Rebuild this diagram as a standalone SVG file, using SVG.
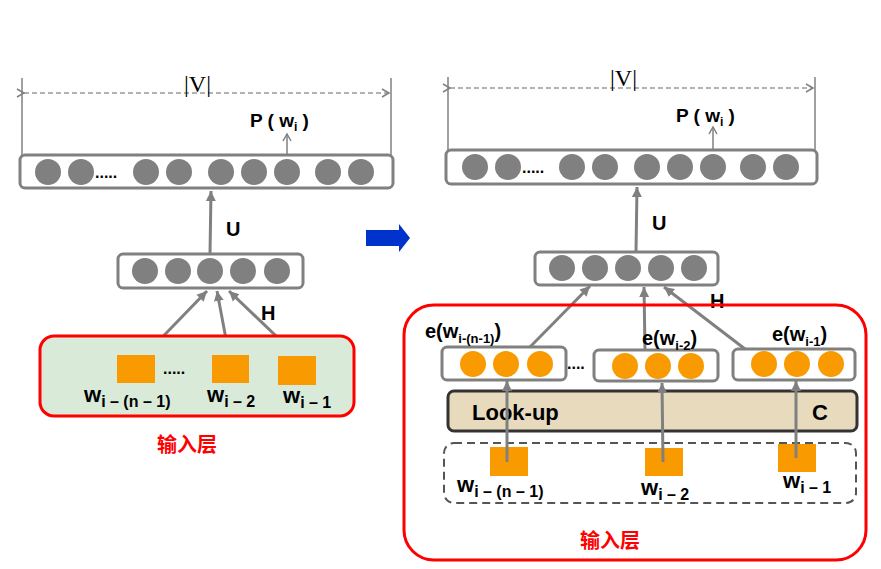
<svg xmlns="http://www.w3.org/2000/svg" width="881" height="569" viewBox="0 0 881 569">
<defs>
<marker id="ah" markerWidth="10" markerHeight="10" refX="8" refY="5" orient="auto" markerUnits="userSpaceOnUse"><path d="M1,1 L8,5 L1,9" fill="none" stroke="#808080" stroke-width="1.5"/></marker>
<marker id="af" markerWidth="12" markerHeight="12" refX="10" refY="6" orient="auto" markerUnits="userSpaceOnUse"><path d="M0,1 L10,6 L0,11 Z" fill="#808080"/></marker>
</defs>
<style>
.box{fill:#fff;stroke:#808080;stroke-width:3}
.g{fill:#808080}
.o{fill:#f99a00}
.sq{fill:#f99a00}
.ln{stroke:#808080;stroke-width:3;fill:none}
.thin{stroke:#808080;stroke-width:1.5;fill:none}
.dash{stroke:#999;stroke-width:1.5;stroke-dasharray:5,3;fill:none}
.t{font-family:"Liberation Sans",Arial,sans-serif;font-weight:bold;fill:#000}
.v{font-family:"Liberation Serif",serif;font-size:24px;fill:#000}
.cn{font-family:"Noto Sans CJK SC",sans-serif;font-weight:bold;font-size:20px;fill:#f00}
</style>
<g id="connectors">
<line class="thin" x1="22" y1="78" x2="22" y2="155"/><line class="thin" x1="391" y1="78" x2="391" y2="155"/>
<line class="dash" x1="24" y1="93" x2="389" y2="93" marker-start="url(#ah)" marker-end="url(#ah)"/>
<line class="thin" x1="287" y1="160" x2="287" y2="134" marker-end="url(#ah)"/>
<line class="ln" x1="210" y1="254" x2="211" y2="191" marker-end="url(#af)"/>
<line class="ln" x1="145" y1="355" x2="207" y2="291" marker-end="url(#af)"/>
<line class="ln" x1="229" y1="355" x2="217" y2="291" marker-end="url(#af)"/>
<line class="ln" x1="297" y1="356" x2="229" y2="291" marker-end="url(#af)"/>
<line class="thin" x1="448" y1="77" x2="448" y2="150"/><line class="thin" x1="815" y1="77" x2="815" y2="150"/>
<line class="dash" x1="450" y1="88" x2="813" y2="88" marker-start="url(#ah)" marker-end="url(#ah)"/>
<line class="thin" x1="713" y1="156" x2="713" y2="127" marker-end="url(#ah)"/>
<line class="ln" x1="636" y1="252" x2="637" y2="187" marker-end="url(#af)"/>
<line class="ln" x1="530" y1="347" x2="590" y2="286" marker-end="url(#af)"/>
<line class="ln" x1="645" y1="350" x2="644" y2="287" marker-end="url(#af)"/>
<line class="ln" x1="745" y1="349" x2="664" y2="287" marker-end="url(#af)"/>
</g>
<g id="input-left"><rect x="40" y="336" width="314" height="80" rx="14" fill="#d9ead9" stroke="#f00" stroke-width="3"/>
<rect class="sq" x="117" y="355" width="38" height="28"/><rect class="sq" x="212" y="355" width="37" height="28"/><rect class="sq" x="278" y="356" width="38" height="29"/>
<text class="t" x="163" y="374" font-size="16">.....</text>
<text class="t" x="84" y="402" font-size="22">w<tspan font-size="16" dy="5">i – (n – 1)</tspan></text>
<text class="t" x="207" y="402" font-size="22">w<tspan font-size="16" dy="5">i – 2</tspan></text>
<text class="t" x="283" y="403" font-size="22">w<tspan font-size="16" dy="5">i – 1</tspan></text>
<text class="cn" x="157" y="452">输入层</text></g>
<g id="hidden-left"><rect class="box" x="118" y="254" width="185" height="34" rx="5"/>
<circle class="g" cx="145" cy="271" r="13"/><circle class="g" cx="178" cy="271" r="13"/><circle class="g" cx="210" cy="271" r="13"/><circle class="g" cx="243" cy="271" r="13"/><circle class="g" cx="277" cy="271" r="13"/>
<text class="t" x="226" y="236" font-size="20">U</text><text class="t" x="261" y="320" font-size="20">H</text></g>
<g id="output-left"><rect class="box" x="20" y="155" width="373" height="33" rx="5"/>
<circle class="g" cx="48" cy="172" r="13"/><circle class="g" cx="81" cy="172" r="13"/><text class="t" x="95" y="178" font-size="16">.....</text>
<circle class="g" cx="146" cy="172" r="13"/><circle class="g" cx="179" cy="172" r="13"/><circle class="g" cx="221" cy="172" r="13"/><circle class="g" cx="254" cy="172" r="13"/><circle class="g" cx="287" cy="172" r="13"/><circle class="g" cx="328" cy="172" r="13"/><circle class="g" cx="361" cy="172" r="13"/>
<text class="v" x="184" y="92">|V|</text>
<text class="t" x="250" y="127" font-size="19">P ( w<tspan font-size="12" dy="4">i</tspan><tspan dy="-4"> )</tspan></text></g>
<g id="arrow"><path d="M366,230 L399,230 L399,224 L410,238 L399,252 L399,246 L366,246 Z" fill="#0033cc"/></g>
<g id="output-right"><rect class="box" x="446" y="150" width="371" height="34" rx="5"/>
<circle class="g" cx="475" cy="167" r="13"/><circle class="g" cx="508" cy="167" r="13"/><text class="t" x="522" y="173" font-size="16">.....</text>
<circle class="g" cx="572" cy="167" r="13"/><circle class="g" cx="605" cy="167" r="13"/><circle class="g" cx="647" cy="167" r="13"/><circle class="g" cx="680" cy="167" r="13"/><circle class="g" cx="713" cy="167" r="13"/><circle class="g" cx="753" cy="167" r="13"/><circle class="g" cx="786" cy="167" r="13"/>
<text class="v" x="610" y="86">|V|</text>
<text class="t" x="676" y="122" font-size="19">P ( w<tspan font-size="12" dy="4">i</tspan><tspan dy="-4"> )</tspan></text></g>
<g id="hidden-right"><rect class="box" x="535" y="252" width="183" height="33" rx="5"/>
<circle class="g" cx="562" cy="268" r="13"/><circle class="g" cx="595" cy="268" r="13"/><circle class="g" cx="628" cy="268" r="13"/><circle class="g" cx="661" cy="268" r="13"/><circle class="g" cx="694" cy="268" r="13"/>
<text class="t" x="652" y="230" font-size="20">U</text><text class="t" x="710" y="308" font-size="20">H</text></g>
<g id="input-right"><rect x="404" y="305" width="462" height="255" rx="30" fill="none" stroke="#f00" stroke-width="3"/>
<text class="cn" x="580" y="548">输入层</text></g>
<g id="emb1"><rect class="box" x="442" y="347" width="124" height="33" rx="5"/>
<circle class="o" cx="473" cy="364" r="13"/><circle class="o" cx="506" cy="364" r="13"/><circle class="o" cx="540" cy="364" r="13"/>
<text class="t" x="425" y="338" font-size="20">e(w<tspan font-size="13" dy="5">i-(n-1)</tspan><tspan dy="-5">)</tspan></text>
<text class="t" x="567" y="369" font-size="16">....</text></g>
<g id="emb2"><rect class="box" x="594" y="350" width="124" height="31" rx="5"/>
<circle class="o" cx="625" cy="366" r="13"/><circle class="o" cx="658" cy="366" r="13"/><circle class="o" cx="691" cy="366" r="13"/>
<text class="t" x="642" y="345" font-size="20">e(w<tspan font-size="13" dy="5">i-2</tspan><tspan dy="-5">)</tspan></text></g>
<g id="emb3"><rect class="box" x="733" y="349" width="122" height="31" rx="5"/>
<circle class="o" cx="764" cy="364" r="13"/><circle class="o" cx="797" cy="364" r="13"/><circle class="o" cx="831" cy="364" r="13"/>
<text class="t" x="772" y="341" font-size="20">e(w<tspan font-size="13" dy="5">i-1</tspan><tspan dy="-5">)</tspan></text></g>
<g id="lookup"><rect x="448" y="391" width="409" height="40" rx="6" fill="#e8dbbd" stroke="#333" stroke-width="3"/>
<text class="t" x="472" y="420" font-size="22">Look-up</text><text class="t" x="812" y="420" font-size="22">C</text></g>
<g id="words"><rect x="444" y="443" width="412" height="60" rx="10" fill="none" stroke="#555" stroke-width="2" stroke-dasharray="8,5"/>
<rect class="sq" x="490" y="447" width="38" height="29"/><rect class="sq" x="645" y="448" width="38" height="28"/><rect class="sq" x="778" y="444" width="38" height="28"/>
<text class="t" x="457" y="492" font-size="22">w<tspan font-size="16" dy="5">i – (n – 1)</tspan></text>
<text class="t" x="641" y="495" font-size="22">w<tspan font-size="16" dy="5">i – 2</tspan></text>
<text class="t" x="783" y="488" font-size="22">w<tspan font-size="16" dy="5">i – 1</tspan></text></g>
<g id="connectors-up">
<line class="ln" x1="507" y1="462" x2="507" y2="381" marker-end="url(#af)"/>
<line class="ln" x1="663" y1="462" x2="662" y2="383" marker-end="url(#af)"/>
<line class="ln" x1="796" y1="458" x2="796" y2="381" marker-end="url(#af)"/>
</g>
</svg>
